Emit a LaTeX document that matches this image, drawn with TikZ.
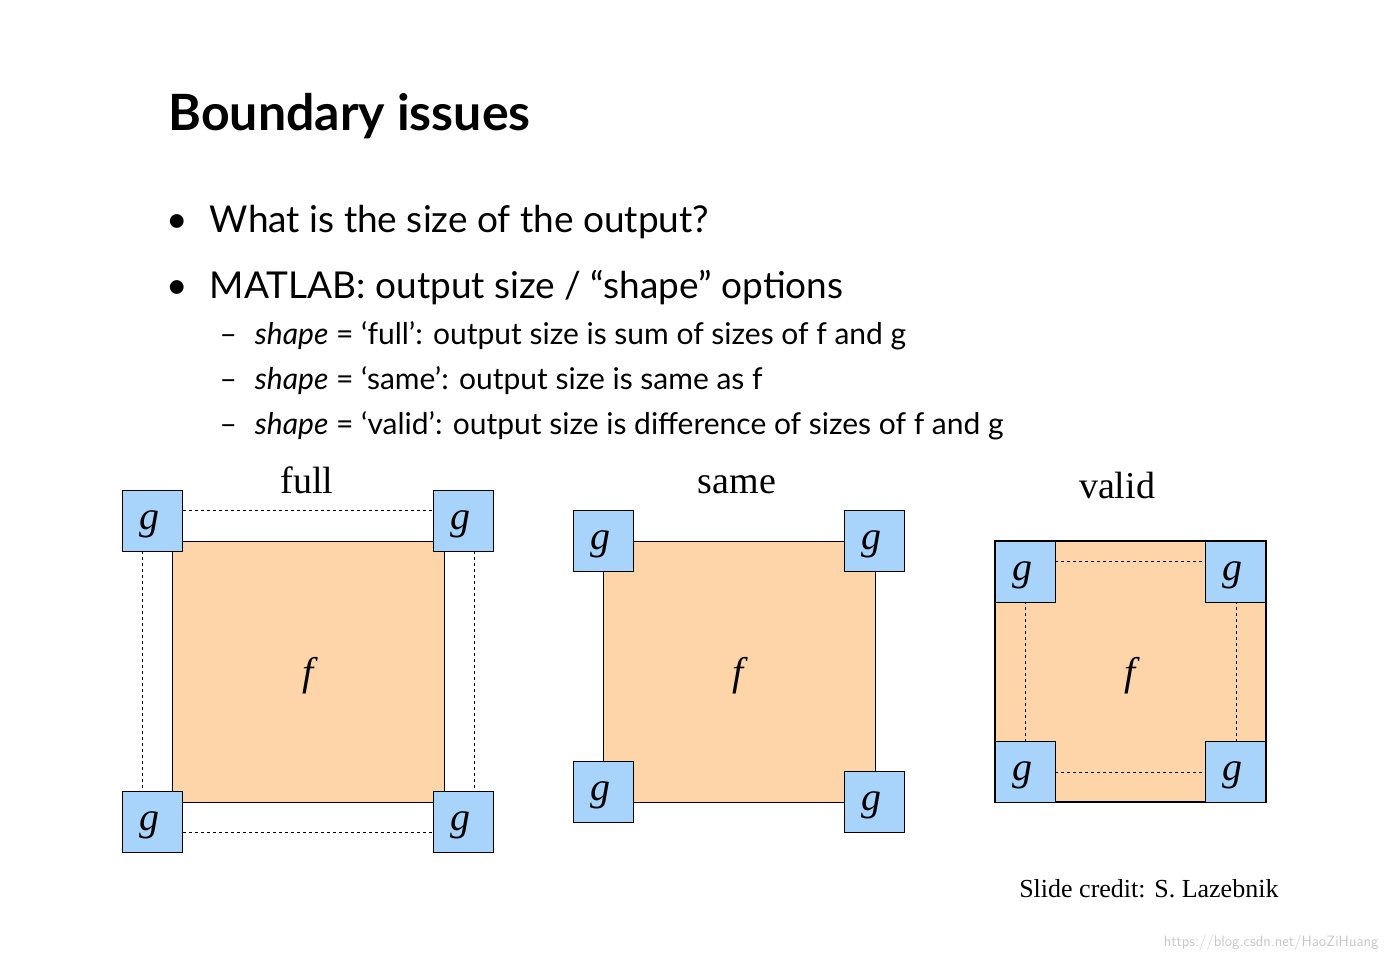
\documentclass[tikz,border=0pt]{standalone}
\usepackage{fontspec}
\setmainfont{Liberation Serif}
\newfontfamily\gill{Lato}
\definecolor{forange}{HTML}{FDD5A8}
\definecolor{gblue}{HTML}{A8D4FC}
\tikzset{
 fbox/.style={draw,fill=forange,line width=0.8pt},
 gbox/.style={draw,fill=gblue,line width=0.8pt},
 dl/.style={dashed,line width=0.8pt},
 glab/.style={font=\fontsize{40}{40}\selectfont\itshape,anchor=center},
 caplab/.style={font=\fontsize{38}{38}\selectfont},
}
\newcommand{\gsq}[3]{\draw[gbox] (#1,#2) rectangle ++(60,61); \node[glab] at (#1+27,#2+34) {g};}
\begin{document}
\begin{tikzpicture}[x=1pt,y=-1pt]
\useasboundingbox (0,0) rectangle (1390,958);
\node[anchor=base west,font=\gill\bfseries\fontsize{50}{50}\selectfont] (title) at (165,130) {Boundary issues};
\node[anchor=base west,font=\gill\fontsize{37}{37}\selectfont] (b1) at (163,232) {\textbullet\hspace{22pt}What is the size of the output?};
\node[anchor=base west,font=\gill\fontsize{37}{37}\selectfont] (b2) at (163,298) {\textbullet\hspace{22pt}MATLAB: output size / “shape” options};
\begin{scope}[every node/.style={anchor=base west,font=\gill\fontsize{30}{30}\selectfont}]
\node (s1) at (216,344) {–\hspace{18pt}\textit{shape} = ‘full’: output size is sum of sizes of f and g};
\node (s2) at (216,389) {–\hspace{18pt}\textit{shape} = ‘same’: output size is same as f};
\node (s3) at (216,434) {–\hspace{18pt}\textit{shape} = ‘valid’: output size is difference of sizes of f and g};
\end{scope}
% full
\node[caplab] (lfull) at (307,480) {full};
\draw[dl] (183,510) -- (433,510); \draw[dl] (183,832) -- (433,832);
\draw[dl] (142,551) -- (142,791); \draw[dl] (474,551) -- (474,791);
\draw[fbox] (172,541) rectangle (444,802);
\node[glab] (f1) at (308,676) {f};
\gsq{122}{490}{}\gsq{433}{490}{}\gsq{122}{791}{}\gsq{433}{791}{}
% same
\node[caplab] (lsame) at (737,485) {same};
\draw[fbox] (603,541) rectangle (875,802);
\node[glab] (f2) at (738,676) {f};
\gsq{573}{510}{}\gsq{844}{510}{}\gsq{573}{761}{}\gsq{844}{771}{}
% valid
\node[caplab] (lvalid) at (1117,485) {valid};
\draw[fbox,line width=1.6pt] (995,541) rectangle (1266,802);
\draw[dl] (1055,561) -- (1205,561); \draw[dl] (1055,772) -- (1205,772);
\draw[dl] (1025,601) -- (1025,741); \draw[dl] (1236,601) -- (1236,741);
\node[glab] (f3) at (1130,676) {f};
\begin{scope}[line width=1.6pt]
\gsq{995}{541}{}\gsq{1205}{541}{}\gsq{995}{741}{}\gsq{1205}{741}{}
\end{scope}
\node[anchor=base east,font=\fontsize{26}{26}\selectfont] (cred) at (1282,897) {Slide credit: S. Lazebnik};
\node[anchor=base east,font=\sffamily\fontsize{15}{15}\selectfont,text=black!22] (wm) at (1382,946) {https://blog.csdn.net/HaoZiHuang};
\end{tikzpicture}
\end{document}
